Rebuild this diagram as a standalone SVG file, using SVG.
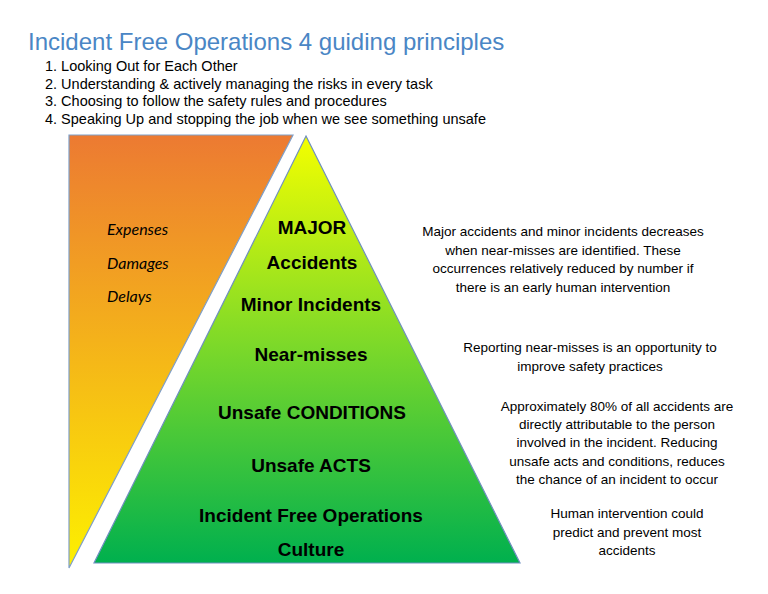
<svg xmlns="http://www.w3.org/2000/svg" width="768" height="594" viewBox="0 0 768 594">
<style>
.t{font-family:"Liberation Sans",Arial,sans-serif}
.h{font-size:24px;fill:#4a86c5}
.l{font-size:14.5px;fill:#000}
.b{font-size:19px;font-weight:bold;fill:#000;text-anchor:middle}
.i{font-family:Lato,"Liberation Sans",sans-serif;font-style:italic;font-size:16px;fill:#000}
.n{font-size:13.5px;fill:#000;text-anchor:middle}
</style>
<defs>
<linearGradient id="og" x1="0" y1="0" x2="0" y2="1"><stop offset="0" stop-color="#ec7a32"/><stop offset="1" stop-color="#fdf000"/></linearGradient>
<linearGradient id="gg" x1="0" y1="0" x2="0" y2="1"><stop offset="0" stop-color="#f4ff00"/><stop offset="0.5" stop-color="#7ad82a"/><stop offset="1" stop-color="#00b04e"/></linearGradient>
</defs>
<rect width="768" height="594" fill="#fff"/>
<text class="t h" x="28" y="50">Incident Free Operations 4 guiding principles</text>
<text class="t l" x="45" y="71">1. Looking Out for Each Other</text>
<text class="t l" x="45" y="89">2. Understanding &amp; actively managing the risks in every task</text>
<text class="t l" x="45" y="106">3. Choosing to follow the safety rules and procedures</text>
<text class="t l" x="45" y="124">4. Speaking Up and stopping the job when we see something unsafe</text>
<g id="costs">
<polygon points="69,135 293,135 69,568" fill="url(#og)" stroke="#7f9fc8" stroke-width="1.2"/>
<text class="i" x="107" y="235">Expenses</text>
<text class="i" x="107" y="269">Damages</text>
<text class="i" x="107" y="302">Delays</text>
</g>
<g id="pyramid">
<polygon points="306,136 520,563 94,563" fill="url(#gg)" stroke="#6f8fc0" stroke-width="1.2"/>
<text class="t b" x="312" y="234">MAJOR</text>
<text class="t b" x="312" y="269">Accidents</text>
<text class="t b" x="311" y="311">Minor Incidents</text>
<text class="t b" x="311" y="361">Near-misses</text>
<text class="t b" x="312" y="419">Unsafe CONDITIONS</text>
<text class="t b" x="311" y="472">Unsafe ACTS</text>
<text class="t b" x="311" y="522">Incident Free Operations</text>
<text class="t b" x="311" y="556">Culture</text>
</g>
<g id="notes">
<text class="t n" x="563" y="236">Major accidents and minor incidents decreases</text>
<text class="t n" x="563" y="255">when near-misses are identified. These</text>
<text class="t n" x="563" y="273">occurrences relatively reduced by number if</text>
<text class="t n" x="563" y="292">there is an early human intervention</text>
<text class="t n" x="590" y="352">Reporting near-misses is an opportunity to</text>
<text class="t n" x="590" y="371">improve safety practices</text>
<text class="t n" x="617" y="411">Approximately 80% of all accidents are</text>
<text class="t n" x="617" y="429">directly attributable to the person</text>
<text class="t n" x="617" y="447">involved in the incident. Reducing</text>
<text class="t n" x="617" y="466">unsafe acts and conditions, reduces</text>
<text class="t n" x="617" y="484">the chance of an incident to occur</text>
<text class="t n" x="627" y="518">Human intervention could</text>
<text class="t n" x="627" y="537">predict and prevent most</text>
<text class="t n" x="627" y="555">accidents</text>
</g>
<g id="connectors"></g>
</svg>
